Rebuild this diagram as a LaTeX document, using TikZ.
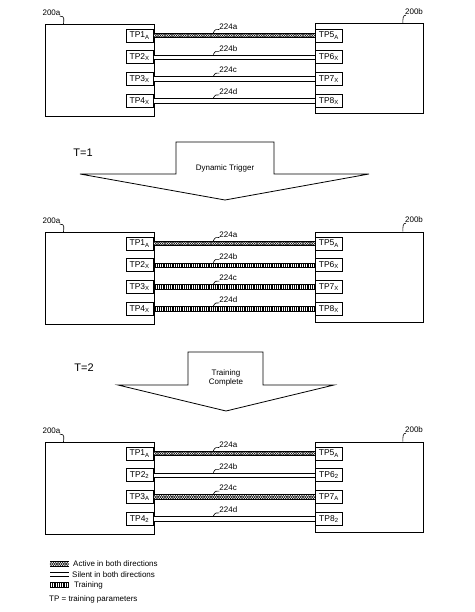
\documentclass[tikz,border=0pt]{standalone}
\usepackage{fontspec}
\setmainfont{Liberation Sans}
\usetikzlibrary{positioning,decorations.pathmorphing}

\tikzset{
  dev/.style={draw,line width=.8pt,inner sep=0pt},
  tpbox/.style={draw,fill=white,line width=.8pt,minimum width=27pt,
    minimum height=13pt,inner sep=1pt,font=\fontsize{8.5}{10}\selectfont},
  lbl/.style={inner sep=0pt,font=\fontsize{8}{9.6}\selectfont},
  lead/.style={line width=.6pt},
  silent/.style={draw,line width=5.4pt,postaction={draw=white,line width=3.4pt}},
  training/.style={silent,postaction={draw=black,line width=3.4pt,
    dash pattern=on .9pt off .9pt}},
  active/.style={silent,
    postaction={draw=black,line width=.45pt,decorate,
      decoration={zigzag,amplitude=1.7pt,segment length=4.6pt}},
    postaction={draw=black,line width=.45pt,decorate,
      decoration={zigzag,amplitude=1.7pt,segment length=4.6pt,mirror}}},
  bigarrow/.style={draw,line width=.8pt,line join=miter}
}

\begin{document}
\begin{tikzpicture}[x=1pt,y=-1pt]
\useasboundingbox (0,0) rectangle (474,612);

% the three link states
\foreach \p/\yy/\rows in {
  1/24/{1/a/A/active,2/b/X/silent,3/c/X/silent,4/d/X/silent},
  2/232/{1/a/A/active,2/b/X/training,3/c/X/training,4/d/X/training},
  3/442/{1/a/A/active,2/b/2/silent,3/c/A/active,4/d/2/silent}}
{
  \node[dev,minimum width=109pt,minimum height=92pt,anchor=north west]
    (devA-\p) at (44.5,\yy) {};
  \node[dev,minimum width=108pt,minimum height=90pt,anchor=north west]
    (devB-\p) at (315,\yy-0.5) {};
  \node[lbl] (nameA-\p) at (51.5,\yy-11) {200a};
  \node[lbl] (nameB-\p) at (414,\yy-12) {200b};
  \draw[lead] ([xshift=-1pt]nameA-\p.south east) .. controls +(6,0) and +(0,-4)
    .. ([xshift=19pt]devA-\p.north west);
  \draw[lead] ([xshift=-21pt]devB-\p.north east) .. controls +(0,-5) and +(-3,0)
    .. ([xshift=1pt]nameB-\p.south west);
  \foreach \i/\l/\s/\st in \rows {
    \pgfmathtruncatemacro\j{\i+4}
    \node[tpbox,anchor=east] (tpA-\p-\i) at (153.5,\yy+11.5+21.8*\i-21.8)
      {TP\i\textsubscript{\s}};
    \node[tpbox,anchor=west] (tpB-\p-\i) at (315,\yy+11.5+21.8*\i-21.8)
      {TP\j\textsubscript{\s}};
    \path (tpA-\p-\i.east) -- coordinate[pos=.37] (m-\p-\i) (tpB-\p-\i.west);
    \node[lbl,anchor=south west,above right=6pt and 6pt of m-\p-\i]
      (link-\p-\i) {224\l};
    \draw[lead] ([yshift=2.7pt]m-\p-\i) .. controls +(2,-4) and +(-3,0)
      .. (link-\p-\i.south west);
    \draw[\st] (tpA-\p-\i.east) -- (tpB-\p-\i.west);
  }
}

% transitions
\node[font=\fontsize{11}{13}\selectfont] (t1) at (83,153) {T=1};
\draw[bigarrow] (80,174) -- (176,174) -- (176,142) -- (274,142) -- (274,174)
  -- (369,174) -- (225,200) -- cycle;
\node[lbl] (trig) at (225,168) {Dynamic Trigger};

\node[font=\fontsize{11}{13}\selectfont] (t2) at (84,368) {T=2};
\draw[bigarrow] (118,385) -- (188,385) -- (188,352) -- (263,352) -- (263,385)
  -- (334,385) -- (226,411) -- cycle;
\node[lbl,align=center] (done) at (226,378) {Training\\Complete};

% legend
\node[lbl,anchor=west] (lgAct) at (73,564) {Active in both directions};
\node[lbl,anchor=west] (lgSil) at (72,574.5) {Silent in both directions};
\node[lbl,anchor=west] (lgTrn) at (74,585) {Training};
\node[lbl,anchor=west] (lgTP) at (49,599) {TP = training parameters};
\draw[active] ([xshift=-23pt]lgAct.west) -- ++(19,0);
\draw[silent] ([xshift=-22pt]lgSil.west) -- ++(19,0);
\draw[training] ([xshift=-24pt]lgTrn.west) -- ++(19,0);
\end{tikzpicture}
\end{document}
